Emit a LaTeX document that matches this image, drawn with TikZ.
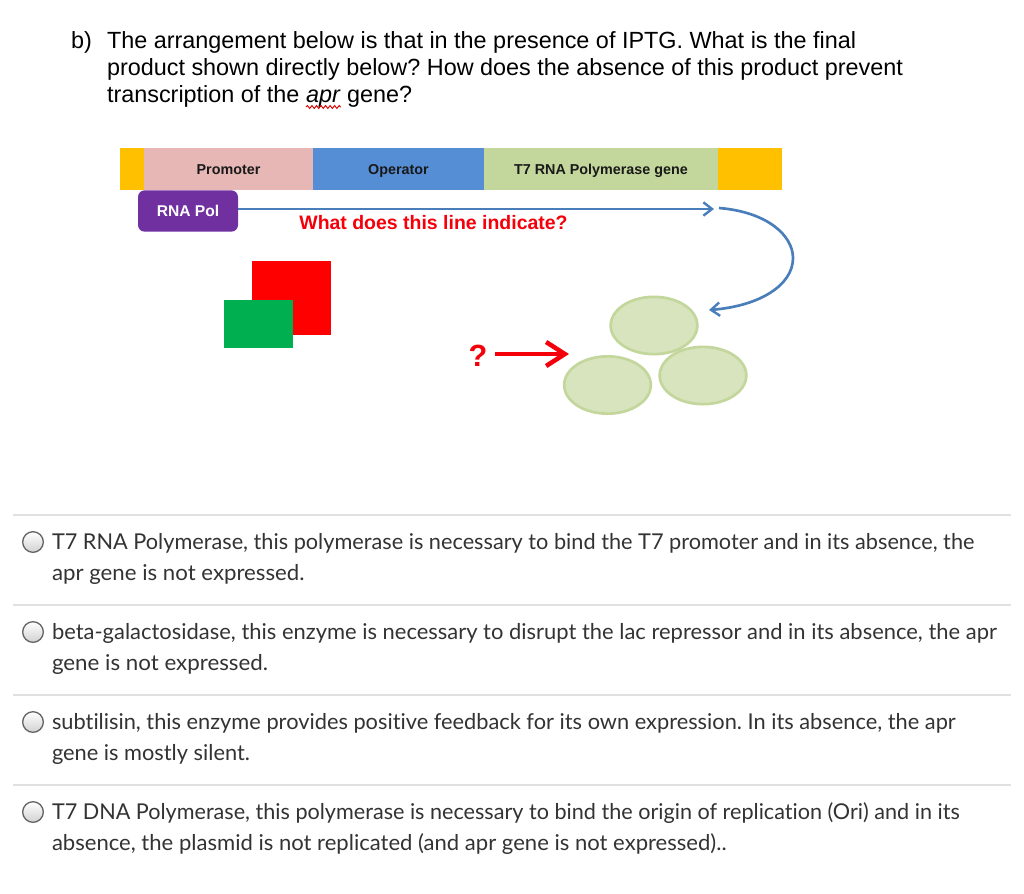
\documentclass[tikz,border=0pt]{standalone}
\usepackage{fontspec}
\setmainfont{Liberation Sans}
\newfontfamily\optfont[Ligatures=NoCommon]{Lato}
\usetikzlibrary{arrows.meta,decorations.pathmorphing,shapes.geometric}
\definecolor{ylw}{HTML}{FFC000}
\definecolor{prm}{HTML}{E6B7B5}
\definecolor{opr}{HTML}{558ED5}
\definecolor{tsv}{HTML}{C3D69B}
\definecolor{pol}{HTML}{7030A0}
\definecolor{lin}{HTML}{4A7EBB}
\definecolor{sph}{HTML}{D7E4BD}
\definecolor{sphl}{HTML}{C3D69B}
\definecolor{rule}{HTML}{E0E0E0}
\definecolor{txt}{HTML}{333333}
\definecolor{redt}{HTML}{F5000A}
\definecolor{grn}{HTML}{00B050}
\frenchspacing
\newcommand{\fitw}[2]{\scalebox{#1}[1]{#2}}
\tikzset{
  x=0.75pt,y=-0.75pt,
  seg/.style={inner sep=0pt,outer sep=0pt,minimum height=31.5pt,text height=8.6pt,text depth=0.9pt,text=black!90,font=\fontsize{10.75}{12}\selectfont\bfseries},
  head/.style={anchor=base west,inner sep=0pt,outer sep=0pt,text=black,font=\fontsize{17.55}{20}\selectfont},
  opt/.style={anchor=base west,inner sep=0pt,outer sep=0pt,text=txt,font=\optfont\fontsize{16.35}{20}\selectfont},
  radio/.style={circle,draw=black!60,line width=1pt,minimum size=15.5pt,inner sep=0pt,top color=white,bottom color=black!18},
  sep/.style={draw=rule,line width=0.8pt},
  blob/.style={ellipse,draw=sphl,fill=sph,line width=2pt,minimum width=65pt,minimum height=43pt,inner sep=0pt},
  blue/.style={draw=lin,line width=2pt},
  bluetip/.style={-{Straight Barb[length=6.5pt,width=10pt,line width=1.8pt]}},
  redlabel/.style={inner sep=0pt,text=redt},
}
\begin{document}
\begin{tikzpicture}
\useasboundingbox (0,0) rectangle (1024,893);
\fill[white] (0,0) rectangle (1024,893);
% heading
\node[head] (hb) at (71,48) {b)};
\node[head] (h1) at (107,48) {The arrangement below is that in the presence of IPTG. What is the final};
\node[head] (h2) at (107,75) {product shown directly below? How does the absence of this product prevent};
\node[head] (h3) at (107,102) {transcription of the \textit{apr} gene?};
\coordinate (sqa) at (306,107);
\coordinate (sqb) at (341,107);
\draw[red!85!black,line width=0.7pt,decorate,decoration={snake,amplitude=1.1pt,segment length=3.4pt}] (sqa) -- (sqb);
% gene bar
\node[seg,fill=ylw,minimum width=18pt] (y1) at (132,169) {};
\node[seg,fill=prm,minimum width=126.75pt] (prom) at (228.5,169) {Promoter};
\node[seg,fill=opr,minimum width=128.25pt] (oper) at (398.5,169) {Operator};
\node[seg,fill=tsv,minimum width=175.5pt] (t7) at (601,169) {T7 RNA Polymerase gene};
\node[seg,fill=ylw,minimum width=48pt] (y2) at (750,169) {};
\node[rounded corners=5pt,fill=pol,text=white,inner sep=0pt,minimum width=75pt,minimum height=31pt,text height=7.9pt,text depth=0pt,font=\fontsize{11.7}{12}\selectfont\bfseries] (rnap) at (188,211) {RNA Pol};
% transcription line
\coordinate (ls) at (238,209);
\coordinate (le) at (714,209);
\draw[blue,bluetip] (ls) -- (le);
\node[redlabel,font=\fontsize{14.6}{16}\selectfont\bfseries] (what) at (433.5,222.5) {What does this line indicate?};
\coordinate (cs) at (719,208);
\coordinate (cm) at (793,258);
\coordinate (ce) at (709,310);
\draw[blue,bluetip] (cs) .. controls (768,212) and (793,236) .. (cm) .. controls (793,285) and (760,306) .. (ce);
% squares
\fill[red] (252,260.5) rectangle (331,335);
\fill[grn] (224,299.5) rectangle (293,348);
% product
\node[blob] (b1) at (654,325.5) {};
\node[blob] (b2) at (703,375.5) {};
\node[blob] (b3) at (607.5,385) {};
\node[redlabel,font=\fontsize{23}{24}\selectfont\bfseries] (q) at (478,356) {?};
\coordinate (ra) at (495,354);
\coordinate (rb) at (569,354);
\draw[draw=redt,line width=3.6pt,-{Straight Barb[length=14pt,width=18pt,line width=3.4pt]}] (ra) -- (rb);
% separators
\foreach \n/\yy in {a/515,b/605,c/695,d/785}{
  \coordinate (l\n) at (13,\yy);
  \coordinate (r\n) at (1011,\yy);
  \draw[sep] (l\n) -- (r\n);
}
% options
\node[radio] (ra1) at (33,542) {};
\node[opt] (o1a) at (52,549) {\fitw{0.9957}{T7 RNA Polymerase, this polymerase is necessary to bind the T7 promoter and in its absence, the}};
\node[opt] (o1b) at (52,580) {\fitw{1.02}{apr gene is not expressed.}};
\node[radio] (ra2) at (33,632) {};
\node[opt] (o2a) at (52,639) {\fitw{1.0064}{beta-galactosidase, this enzyme is necessary to disrupt the lac repressor and in its absence, the apr}};
\node[opt] (o2b) at (52,670) {\fitw{1.024}{gene is not expressed.}};
\node[radio] (ra3) at (33,722) {};
\node[opt] (o3a) at (52,729) {subtilisin, this enzyme provides positive feedback for its own expression. In its absence, the apr};
\node[opt] (o3b) at (52,760) {gene is mostly silent.};
\node[radio] (ra4) at (33,812) {};
\node[opt] (o4a) at (52,819) {\fitw{0.991}{T7 DNA Polymerase, this polymerase is necessary to bind the origin of replication (Ori) and in its}};
\node[opt] (o4b) at (52,850) {\fitw{1.012}{absence, the plasmid is not replicated (and apr gene is not expressed)..}};
\end{tikzpicture}
\end{document}
